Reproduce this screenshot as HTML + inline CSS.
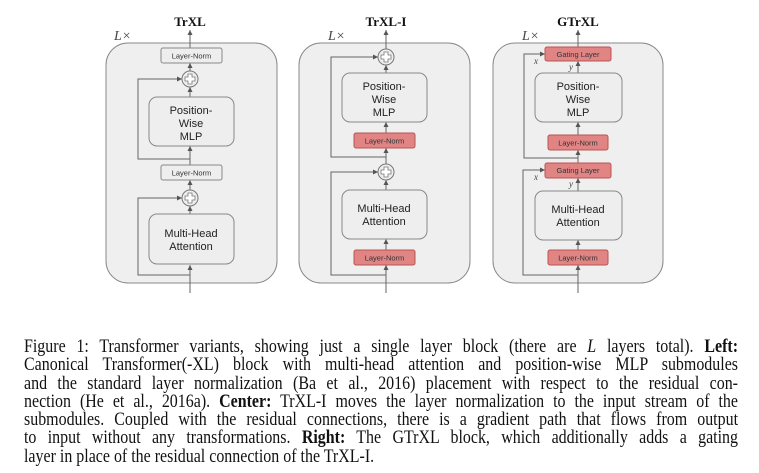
<!DOCTYPE html>
<html><head><meta charset="utf-8"><style>
body{margin:0;background:#fff;width:759px;height:473px;overflow:hidden;position:relative}
svg{position:absolute;left:0;top:0}
.cap{position:absolute;left:24px;width:850px;font-family:"Liberation Serif",serif;font-size:19px;line-height:18.3px;top:338px;color:#111;transform:scaleX(0.84);transform-origin:0 0}
.cap div{white-space:nowrap;text-align:justify;text-align-last:justify}
.cap div.last{text-align-last:left}
</style></head><body>
<svg width="759" height="330" viewBox="0 0 759 330" font-family="Liberation Sans,sans-serif">
<defs><marker id="a" markerWidth="6" markerHeight="6" refX="5" refY="3" orient="auto"><path d="M0,0.5 L5,3 L0,5.5z" fill="#555"/></marker>
<g id="plus"><circle r="8" fill="#eee" stroke="#777" stroke-width="1"/><path d="M-2,-5h4v3h3v4h-3v3h-4v-3h-3v-4h3z" fill="#fff" stroke="#777" stroke-width="0.8"/></g></defs>
<g stroke="#666" stroke-width="1" fill="none">
<rect x="106" y="43" width="171" height="240" rx="22" fill="#efefef" stroke="#888"/>
<rect x="299" y="43" width="171" height="240" rx="22" fill="#efefef" stroke="#888"/>
<rect x="493" y="43" width="170" height="240" rx="22" fill="#efefef" stroke="#888"/>
<path d="M190,293V265" marker-end="url(#a)"/>
<path d="M190,275H138V198H182" marker-end="url(#a)"/>
<path d="M190,214V206" marker-end="url(#a)"/>
<path d="M190,190V180" marker-end="url(#a)"/>
<path d="M190,165V146" marker-end="url(#a)"/>
<path d="M190,159H138V79H182" marker-end="url(#a)"/>
<path d="M190,97V87" marker-end="url(#a)"/>
<path d="M190,71V63" marker-end="url(#a)"/>
<path d="M190,48V30" marker-end="url(#a)"/>
<path d="M386,293V265" marker-end="url(#a)"/>
<path d="M386,275H331V172H378" marker-end="url(#a)"/>
<path d="M386,250V239" marker-end="url(#a)"/>
<path d="M386,190V180" marker-end="url(#a)"/>
<path d="M386,164V148" marker-end="url(#a)"/>
<path d="M386,157H331V57H378" marker-end="url(#a)"/>
<path d="M386,133V122" marker-end="url(#a)"/>
<path d="M386,73V65" marker-end="url(#a)"/>
<path d="M386,49V30" marker-end="url(#a)"/>
<path d="M578,293V265" marker-end="url(#a)"/>
<path d="M578,275H523V170H545" marker-end="url(#a)"/>
<path d="M578,250V240" marker-end="url(#a)"/>
<path d="M578,191V178" marker-end="url(#a)"/>
<path d="M578,163V150" marker-end="url(#a)"/>
<path d="M578,158H524V54H545" marker-end="url(#a)"/>
<path d="M578,135V122" marker-end="url(#a)"/>
<path d="M578,73V61" marker-end="url(#a)"/>
<path d="M578,47V30" marker-end="url(#a)"/>
</g>
<g fill="#eee" stroke="#888">
<rect x="161" y="48" width="61" height="15" rx="2"/>
<rect x="161" y="165" width="61" height="15" rx="2"/>
<rect x="149" y="97" width="85" height="49" rx="8"/>
<rect x="149" y="214" width="85" height="50" rx="8"/>
<rect x="342" y="73" width="85" height="49" rx="8"/>
<rect x="342" y="190" width="85" height="49" rx="8"/>
<rect x="535" y="73" width="87" height="49" rx="8"/>
<rect x="535" y="191" width="87" height="49" rx="8"/>
</g>
<g fill="#e08484" stroke="#b55">
<rect x="354" y="133" width="61" height="15" rx="2"/>
<rect x="354" y="250" width="61" height="15" rx="2"/>
<rect x="548" y="135" width="60" height="15" rx="2"/>
<rect x="548" y="250" width="60" height="15" rx="2"/>
<rect x="545" y="47" width="66" height="14" rx="2"/>
<rect x="545" y="163" width="66" height="15" rx="2"/>
</g>
<use href="#plus" x="190" y="79"/><use href="#plus" x="190" y="198"/>
<use href="#plus" x="386" y="57"/><use href="#plus" x="386" y="172"/>
<g font-size="7.5" fill="#333" text-anchor="middle">
<text x="191.5" y="58.5">Layer-Norm</text><text x="191.5" y="175.5">Layer-Norm</text>
<text x="384.5" y="143.5">Layer-Norm</text><text x="384.5" y="260.5">Layer-Norm</text>
<text x="578" y="145.5">Layer-Norm</text><text x="578" y="260.5">Layer-Norm</text>
<text x="578" y="57">Gating Layer</text><text x="578" y="173">Gating Layer</text>
</g>
<g font-size="11" fill="#222" text-anchor="middle">
<text x="191" y="114">Position-</text><text x="191" y="127">Wise</text><text x="191" y="140">MLP</text>
<text x="191" y="237">Multi-Head</text><text x="191" y="250">Attention</text>
<text x="384" y="90">Position-</text><text x="384" y="103">Wise</text><text x="384" y="116">MLP</text>
<text x="384" y="212">Multi-Head</text><text x="384" y="225">Attention</text>
<text x="578" y="90">Position-</text><text x="578" y="103">Wise</text><text x="578" y="116">MLP</text>
<text x="578" y="213">Multi-Head</text><text x="578" y="226">Attention</text>
</g>
<g font-family="Liberation Serif,serif" font-weight="bold" font-size="13" text-anchor="middle" fill="#111">
<text x="190" y="26">TrXL</text><text x="386" y="26">TrXL-I</text><text x="578" y="26">GTrXL</text>
</g>
<g font-family="Liberation Serif,serif" font-style="italic" font-size="14" fill="#444">
<text x="114" y="40">L×</text><text x="328" y="40">L×</text><text x="522" y="40">L×</text>
</g>
<g font-family="Liberation Serif,serif" font-style="italic" font-size="9" fill="#444">
<text x="534" y="64">x</text><text x="569" y="70">y</text>
<text x="534" y="180">x</text><text x="569" y="187">y</text>
</g>
</svg>
<div class="cap">
<div>Figure 1: Transformer variants, showing just a single layer block (there are <i>L</i> layers total). <b>Left:</b></div>
<div>Canonical Transformer(-XL) block with multi-head attention and position-wise MLP submodules</div>
<div>and the standard layer normalization (Ba et al., 2016) placement with respect to the residual con-</div>
<div>nection (He et al., 2016a). <b>Center:</b> TrXL-I moves the layer normalization to the input stream of the</div>
<div>submodules. Coupled with the residual connections, there is a gradient path that flows from output</div>
<div>to input without any transformations. <b>Right:</b> The GTrXL block, which additionally adds a gating</div>
<div class="last">layer in place of the residual connection of the TrXL-I.</div>
</div>
</body></html>
